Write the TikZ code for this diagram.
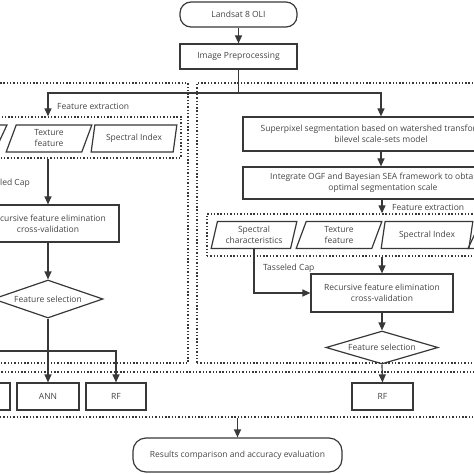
\documentclass[tikz,border=0pt]{standalone}
\usepackage{fontspec}
\setmainfont{Open Sans}
\usetikzlibrary{shapes.geometric,arrows.meta}
\definecolor{ln}{HTML}{383838}
\definecolor{tx}{HTML}{444444}
\begin{document}
\begin{tikzpicture}[x=1pt,y=-1pt,
  every node/.style={font=\fontsize{8.5}{11}\selectfont, text=tx, align=center, inner sep=0pt},
  box/.style={draw=ln, line width=1.2pt, rectangle},
  rbox/.style={draw=ln, line width=1.2pt, rectangle, rounded corners=11pt},
  para/.style={draw=ln, line width=1.2pt, trapezium, trapezium left angle=75, trapezium right angle=105, trapezium stretches=true, inner xsep=2pt, inner ysep=1pt, minimum width=86pt, minimum height=27pt},
  dia/.style={draw=ln, line width=1.2pt, diamond, shape aspect=2.9},
  frame/.style={draw=ln, line width=1.4pt, dash pattern=on 1.4pt off 1.9pt, rectangle},
  arr/.style={draw=ln, line width=1.2pt, -{Triangle[length=8pt,width=7pt]}},
  ln/.style={draw=ln, line width=1.2pt}
]
\useasboundingbox (0,0) rectangle (474,474);
\clip (0,0) rectangle (474,474);

% top
\node[rbox, minimum width=117pt, minimum height=25pt] (landsat) at (238.5,14.5) {Landsat 8 OLI};
\node[box, minimum width=117pt, minimum height=25pt] (prep) at (238.5,56.5) {Image Preprocessing};

% frames
\node[frame, minimum width=210pt, minimum height=280pt] (lout) at (83,223) {};
\node[frame, minimum width=300pt, minimum height=280pt] (rout) at (347,223) {};
\node[frame, minimum width=200pt, minimum height=41pt] (lfeat) at (81,137.5) {};
\node[frame, minimum width=290pt, minimum height=42pt] (rfeat) at (352,235) {};
\node[frame, minimum width=520pt, minimum height=45pt] (cls) at (237,394.5) {};

% left branch
\node[para] (lspec) at (-36,138.5) {\phantom{x}};
\node[para] (ltex) at (49,138.5) {Texture\\feature};
\node[para] (lidx) at (134,138.5) {Spectral Index};
\node[anchor=west] (lfelab) at (57,106) {Feature extraction};
\node[anchor=east] (ltc) at (30,183) {Tasseled Cap};
\node[box, minimum width=142pt, minimum height=37pt] (lrfe) at (48,223.5) {Recursive feature elimination\\cross-validation};
\node[dia, minimum width=110pt, minimum height=38pt] (ldia) at (48,299) {Feature selection};
\node[box, minimum width=62pt, minimum height=27pt] (lpart) at (-21,396.5) {};
\node[box, minimum width=62pt, minimum height=27pt] (lann) at (48,396.5) {ANN};
\node[box, minimum width=60pt, minimum height=27pt] (lrf) at (116,396.5) {RF};

% right branch
\node[box, minimum width=276pt, minimum height=34pt] (sp) at (381,134) {Superpixel segmentation based on watershed transform and\\bilevel scale-sets model};
\node[box, minimum width=280pt, minimum height=32pt] (int) at (383,183) {Integrate OGF and Bayesian SEA framework to obtain the\\optimal segmentation scale};
\node[anchor=west] (rfelab) at (392,207) {Feature extraction};
\node[para] (rspec) at (254,235) {Spectral\\characteristics};
\node[para] (rtex) at (339,235) {Texture\\feature};
\node[para, minimum width=92pt] (ridx) at (427,235) {Spectral Index};
\node[para] (rfour) at (511,235) {\phantom{x}};
\node[anchor=west] (rtc) at (263,268) {Tasseled Cap};
\node[box, minimum width=142pt, minimum height=38pt] (rrfe) at (382,293) {Recursive feature elimination\\cross-validation};
\node[dia, minimum width=112pt, minimum height=33pt] (rdia) at (382,347.5) {Feature selection};
\node[box, minimum width=61pt, minimum height=27pt] (rrf) at (382.5,396.5) {RF};

% bottom
\node[rbox, minimum width=209pt, minimum height=34pt, rounded corners=13pt] (res) at (237.5,455) {Results comparison and accuracy evaluation};

% connectors
\draw[arr] (landsat) -- (prep);
\coordinate (split) at (238.5,93);
\draw[ln] (prep.south) -- (split);
\draw[arr] (split) -| (lrfe.north |- lfeat.north);
\draw[arr] (split) -| (sp.north);
\draw[arr] (sp) -- (int.north -| sp.south);
\draw[arr] (int.south -| rrfe.north) -- (rrfe.north |- rfeat.north);
\draw[arr] (rrfe.north |- rfeat.south) -- (rrfe.north);
\draw[arr] (rspec.south) |- (rrfe.west);
\draw[arr] (lrfe.north |- lfeat.south) -- (lrfe.north);
\draw[arr] (lrfe) -- (ldia);
\draw[arr] (rrfe) -- (rdia);
\draw[arr] (ldia.south) -- (lann.north);
\coordinate (lbr) at (48,351);
\draw[arr] (lbr) -| (lrf.north);
\draw[arr] (lbr) -| (lpart.north);
\draw[arr] (rdia.south) -- (rrf.north);
\draw[arr] (res.north |- cls.south) -- (res.north);
\end{tikzpicture}
\end{document}
